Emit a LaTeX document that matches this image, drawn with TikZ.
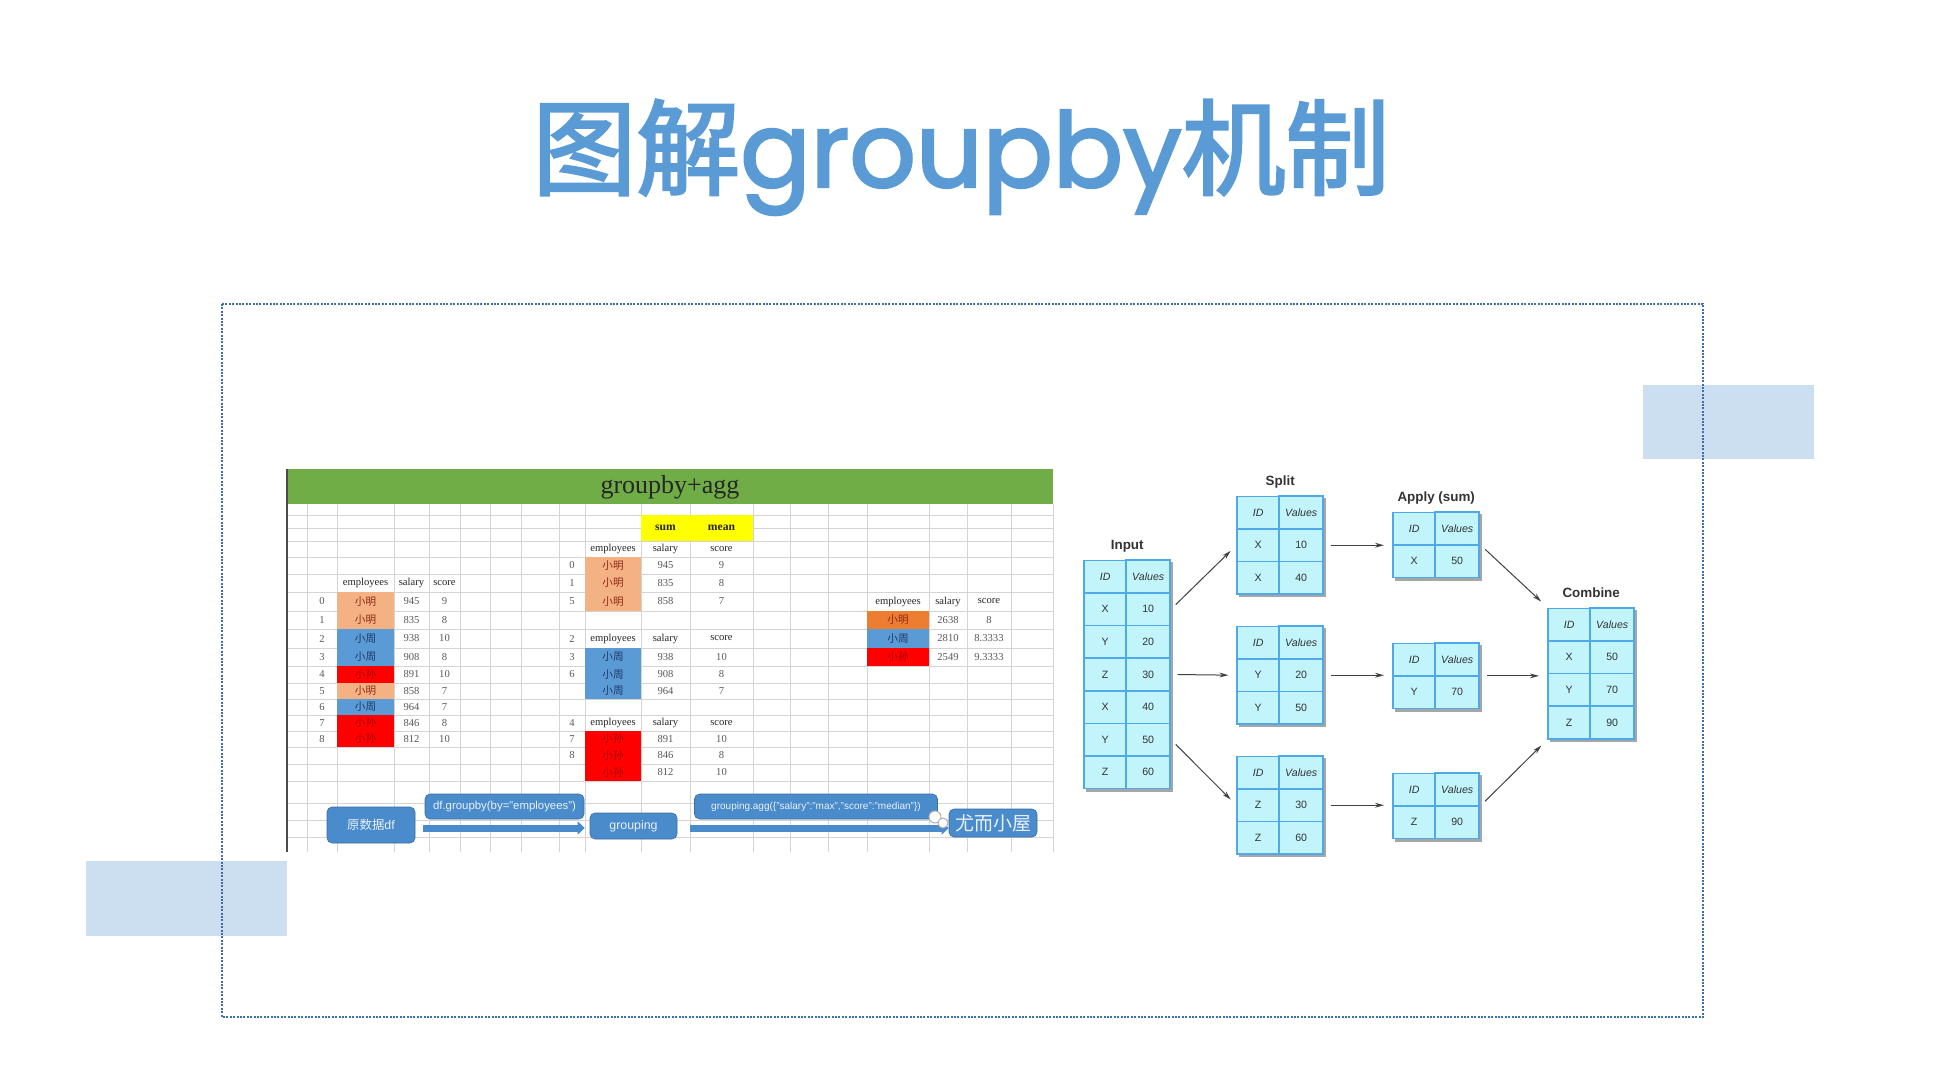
\documentclass[tikz,border=0pt]{standalone}
\usepackage{fontspec}
\setmainfont{Liberation Serif}
\setsansfont{Liberation Sans}
\newfontfamily\cjk{Noto Sans CJK SC}
\newfontfamily\cjktitle{Noto Sans CJK SC}[FakeBold=2.4]
\newfontfamily\titlelat{Poppins}[FakeBold=2.4]
\usetikzlibrary{arrows,arrows.meta,matrix,shadows,positioning}

\definecolor{ttlblue}{HTML}{5B9BD5}
\definecolor{framecol}{HTML}{3E6FA8}
\definecolor{boxlight}{HTML}{CCDFF0}
\definecolor{sheetgreen}{HTML}{70AD47}
\definecolor{gridgray}{HTML}{D4D4D4}
\definecolor{peach}{HTML}{F4B183}
\definecolor{orangec}{HTML}{ED7D31}
\definecolor{bluec}{HTML}{5B9BD5}
\definecolor{redc}{HTML}{FF0000}
\definecolor{yellowc}{HTML}{FFFF00}
\definecolor{mingtxt}{HTML}{8E2A16}
\definecolor{zhoutxt}{HTML}{1F3864}
\definecolor{suntxt}{HTML}{A50000}
\definecolor{flowblue}{HTML}{4A8BCB}
\definecolor{tcyan}{HTML}{C2F4FB}
\definecolor{tblue}{HTML}{4FA9E8}
\definecolor{arrowgray}{HTML}{404040}

\begin{document}
\begin{tikzpicture}[x=0.5pt,y=-0.5pt,>={Stealth[length=4.5pt,width=2.4pt]},
  sheet/.style={inner sep=0pt,font=\fontsize{5.3}{6}\selectfont,text=black!65},
  sheethd/.style={inner sep=0pt,font=\fontsize{5.3}{6}\selectfont,text=black!85},
  person/.style={inner sep=0pt,font=\cjk\fontsize{5.3}{6}\selectfont},
  flowbox/.style={fill=flowblue,draw=flowblue!80!black,line width=.3pt,rounded corners=2.5pt,
    inner sep=0pt,text=white!88!flowblue,font=\sffamily\fontsize{5.7}{6}\selectfont},
  flowarrow/.style={flowblue,line width=3.5pt,-{Triangle[width=6.5pt,length=3.5pt]}},
  gtable/.style={matrix of nodes,inner sep=0pt,column sep=-.8pt,row sep=-.8pt,
    nodes={draw=tblue,fill=tcyan,line width=.8pt,minimum height=16.3pt,inner sep=0pt,
      text=black!80,font=\sffamily\fontsize{5.3}{6}\selectfont},
    column 1/.style={nodes={minimum width=21pt}},
    column 2/.style={nodes={minimum width=22pt}},
    row 1/.style={nodes={font=\sffamily\itshape\fontsize{5.3}{6}\selectfont}},
    drop shadow={shadow xshift=1.2pt,shadow yshift=-1.2pt,opacity=.35,fill=black}},
  tlabel/.style={inner sep=0pt,text height=4.8pt,text depth=1.4pt,
    font=\sffamily\bfseries\fontsize{6.7}{8}\selectfont,text=black!80},
  garrow/.style={->,arrowgray,line width=.5pt,shorten <=3.3pt,shorten >=4pt}]

  \fill[white] (0,0) rectangle (1955,1080);
  \useasboundingbox (0,0) rectangle (1955,1080);

  % title
  \node[anchor=base,text=ttlblue,font=\fontsize{52}{60}\selectfont] (title) at (961,187)
    {{\cjktitle 图解}{\titlelat groupby}{\cjktitle 机制}};

  % decoration
  \fill[boxlight] (1643,385) rectangle (1814,459);
  \fill[boxlight] (86,861) rectangle (287,936);
  \draw[framecol,line width=1pt,dash pattern=on 1pt off .7pt] (222,304) rectangle (1703,1017);

  % spreadsheet
  \fill[white] (287,469) rectangle (1053,852);
  \foreach \gx in {307,337,394,429,460,490,521,559,585,641,690,753,790,828,867,929,967,1011,1053}
    \draw[gridgray,line width=.4pt] (\gx,504) -- (\gx,852);
  \foreach \gy in {515,528,541,557,574,592,611,629,648,666,683,699,715,731,747,764,781,803,820,837}
    \draw[gridgray,line width=.4pt] (287,\gy) -- (1053,\gy);
  \foreach \xa/\xb/\ya/\yb/\col in {337/394/592/629/peach,337/394/629/666/bluec,337/394/666/683/redc,
      337/394/683/699/peach,337/394/699/715/bluec,337/394/715/747/redc,
      641/753/515/541/yellowc,585/641/557/611/peach,585/641/648/699/bluec,585/641/731/781/redc,
      867/929/611/629/orangec,867/929/629/648/bluec,867/929/648/666/redc}
    \fill[\col] (\xa,\ya) rectangle (\xb,\yb);
  \fill[sheetgreen] (287,469) rectangle (1053,504);
  \draw[black!70,line width=.6pt] (287,469) -- (287,852);
  \node[text=black!85,font=\fontsize{13}{15}\selectfont] (sheettitle) at (670,487) {groupby+agg};

  % original df
  \node[sheethd] (lhemp) at (365.5,583) {employees};
  \node[sheethd] (lhsal) at (411.5,583) {salary};
  \node[sheethd] (lhsco) at (444.5,583) {score};
  \foreach \idx/\yy/\nm/\tc/\sal/\sco in {0/601.5/小明/mingtxt/945/9,1/620/小明/mingtxt/835/8,
      2/638.5/小周/zhoutxt/938/10,3/657/小周/zhoutxt/908/8,4/674.5/小孙/suntxt/891/10,
      5/691/小明/mingtxt/858/7,6/707/小周/zhoutxt/964/7,7/723/小孙/suntxt/846/8,8/739/小孙/suntxt/812/10}{
    \node[sheet] (lidx\idx) at (322,\yy) {\idx};
    \node[person,text=\tc] (lname\idx) at (365.5,\yy) {\nm};
    \node[sheet] (lsal\idx) at (411.5,\yy) {\sal};
    \node[sheet] (lsco\idx) at (444.5,\yy) {\sco};
  }

  % grouped
  \node[sheethd,font=\bfseries\fontsize{5.8}{6}\selectfont] (msum) at (665.5,528) {sum};
  \node[sheethd,font=\bfseries\fontsize{5.8}{6}\selectfont] (mmean) at (721.5,528) {mean};
  \foreach \yy/\hx [count=\r] in {549/,638.5/2,723/4}{
    \node[sheet] (mhidx\r) at (572,\yy) {\hx};
    \node[sheethd] (mhemp\r) at (613,\yy) {employees};
    \node[sheethd] (mhsal\r) at (665.5,\yy) {salary};
    \node[sheethd] (mhsco\r) at (721.5,\yy) {score};
  }
  \foreach \idx/\yy/\nm/\tc/\sal/\sco [count=\r] in {0/565.5/小明/mingtxt/945/9,1/583/小明/mingtxt/835/8,
      5/601.5/小明/mingtxt/858/7,3/657/小周/zhoutxt/938/10,6/674.5/小周/zhoutxt/908/8,
      /691/小周/zhoutxt/964/7,7/739/小孙/suntxt/891/10,8/755.5/小孙/suntxt/846/8,/772.5/小孙/suntxt/812/10}{
    \node[sheet] (midx\r) at (572,\yy) {\idx};
    \node[person,text=\tc] (mname\r) at (613,\yy) {\nm};
    \node[sheet] (msal\r) at (665.5,\yy) {\sal};
    \node[sheet] (msco\r) at (721.5,\yy) {\sco};
  }

  % result
  \node[sheethd] (rhemp) at (898,601.5) {employees};
  \node[sheethd] (rhsal) at (948,601.5) {salary};
  \node[sheethd] (rhsco) at (989,601.5) {score};
  \foreach \yy/\nm/\tc/\sal/\sco [count=\r] in {620/小明/mingtxt/2638/8,638.5/小周/zhoutxt/2810/8.3333,
      657/小孙/suntxt/2549/9.3333}{
    \node[person,text=\tc] (rname\r) at (898,\yy) {\nm};
    \node[sheet] (rsal\r) at (948,\yy) {\sal};
    \node[sheet] (rsco\r) at (989,\yy) {\sco};
  }

  % flow
  \node[flowbox,minimum width=44pt,minimum height=18pt,font=\sffamily\fontsize{6.2}{7}\selectfont] (raw) at (371,825) {{\cjk 原数据}df};
  \node[flowbox,minimum width=79.5pt,minimum height=12.5pt] (bylbl) at (504.5,806.5) {df.groupby(by="employees")};
  \node[flowbox,minimum width=43.5pt,minimum height=13pt,font=\sffamily\fontsize{6.2}{7}\selectfont] (grp) at (633.5,826) {grouping};
  \node[flowbox,minimum width=121.5pt,minimum height=12.5pt,font=\sffamily\fontsize{5}{6}\selectfont] (agglbl) at (816,806.5)
    {grouping.agg(\{"salary":"max","score":"median"\})};
  \node[flowbox,minimum width=44pt,minimum height=14pt,font=\cjk\fontsize{9.5}{10}\selectfont] (yu) at (993,823) {尤而小屋};
  \draw[flowarrow,shorten <=4pt,shorten >=2.5pt] ([yshift=-1.5pt]raw.east) -- ([yshift=-1.5pt]raw.east -| grp.west);
  \draw[flowarrow,shorten <=6.5pt] ([yshift=-1pt]grp.east) -- ([yshift=-1pt]grp.east -| yu.west);
  \draw[black!30,fill=white,line width=.5pt] (935,817) circle (6);
  \draw[black!30,fill=white,line width=.5pt] (943,823) circle (5);

  % split-apply-combine
  \matrix (inp) [gtable,anchor=north west] at (1083,559) {
    ID & Values \\ X & 10 \\ Y & 20 \\ Z & 30 \\ X & 40 \\ Y & 50 \\ Z & 60 \\ };
  \matrix (sp1) [gtable,anchor=north west] at (1236,495) {ID & Values \\ X & 10 \\ X & 40 \\ };
  \matrix (sp2) [gtable,anchor=north west] at (1236,625) {ID & Values \\ Y & 20 \\ Y & 50 \\ };
  \matrix (sp3) [gtable,anchor=north west] at (1236,755) {ID & Values \\ Z & 30 \\ Z & 60 \\ };
  \matrix (ap1) [gtable,anchor=north west] at (1392,511) {ID & Values \\ X & 50 \\ };
  \matrix (ap2) [gtable,anchor=north west] at (1392,642) {ID & Values \\ Y & 70 \\ };
  \matrix (ap3) [gtable,anchor=north west] at (1392,772) {ID & Values \\ Z & 90 \\ };
  \matrix (cmb) [gtable,anchor=north west] at (1547,607) {
    ID & Values \\ X & 50 \\ Y & 70 \\ Z & 90 \\ };

  \node[tlabel,above=3pt of inp] (inplbl) {Input};
  \node[tlabel,above=3pt of sp1] (splbl) {Split};
  \node[tlabel,above=3pt of ap1] (aplbl) {Apply (sum)};
  \node[tlabel,above=3pt of cmb] (cmblbl) {Combine};

  \draw[garrow] (inp-2-2.east) -- (sp1-2-1.west);
  \draw[garrow] (inp-4-2.east) -- (sp2-2-1.west);
  \draw[garrow] (inp-6-2.east) -- (sp3-2-1.west);
  \draw[garrow] (sp1-2-2.east) -- (sp1-2-2.east -| ap1.west);
  \draw[garrow] (sp2-2-2.east) -- (sp2-2-2.east -| ap2.west);
  \draw[garrow] (sp3-2-2.east) -- (sp3-2-2.east -| ap3.west);
  \draw[garrow] (ap1.east) -- (cmb.north west);
  \draw[garrow] (ap2.east) -- (ap2.east -| cmb.west);
  \draw[garrow] (ap3.east) -- (cmb.south west);
\end{tikzpicture}
\end{document}
